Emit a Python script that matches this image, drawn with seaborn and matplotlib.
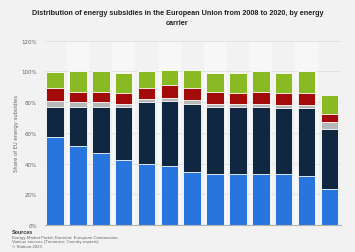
import pandas as pd
import numpy as np
import matplotlib.pyplot as plt
import seaborn as sns

years = [str(y) for y in range(2008, 2021)]
carriers = ['Electricity', 'Renewables', 'Coal', 'Natural gas', 'Petroleum products']
electricity = [57.0, 51.7, 46.9, 42.1, 40.0, 38.2, 34.7, 33.0, 33.0, 33.0, 33.0, 31.9, 23.2]
renewables = [20.1, 25.4, 30.2, 35.0, 39.9, 42.8, 43.9, 44.1, 44.1, 44.1, 43.0, 44.1, 39.5]
coal = [3.9, 2.9, 2.9, 1.5, 2.2, 1.7, 2.6, 1.7, 1.5, 1.5, 2.2, 2.2, 4.2]
natural_gas = [8.0, 6.4, 6.4, 7.2, 6.9, 8.5, 7.8, 7.6, 7.2, 7.8, 7.6, 7.6, 5.2]
petroleum = [10.9, 13.6, 13.6, 13.0, 11.0, 9.8, 12.0, 12.4, 13.0, 13.6, 13.0, 14.2, 12.8]
colors = ['#2876dd', '#0f2740', '#b7b7b7', '#a30b0b', '#8aba23']

df = pd.DataFrame({'year': years, 'Electricity': electricity, 'Renewables': renewables,
                   'Coal': coal, 'Natural gas': natural_gas, 'Petroleum products': petroleum})
cum = df[carriers].cumsum(axis=1)

bg = '#f2f2f2'
fig = plt.figure(figsize=(3.55, 2.53), dpi=100, facecolor=bg)
ax = fig.add_axes([0.127, 0.107, 0.833, 0.728])
ax.set_facecolor(bg)

# lighter bands behind every other bar
for i in range(1, len(years), 2):
    ax.axvspan(i - 0.5, i + 0.5, color='#f7f7f7', zorder=0, lw=0)

# stacked bars: draw cumulative totals from top layer down
for name, col in reversed(list(zip(carriers, colors))):
    sns.barplot(x=df['year'], y=cum[name], color=col, width=0.77, saturation=1,
                edgecolor='white', linewidth=0.6, ax=ax, zorder=2)

ax.set_ylim(0, 120)
ax.set_xlim(-0.44, 12.5)
ax.set_yticks(range(0, 121, 20))
ax.set_yticklabels([f'{t}%' for t in range(0, 121, 20)], fontsize=4, color='#666666')
ax.set_xticks([])
ax.set_xlabel('')
ax.set_ylabel('Share of EU energy subsidies', fontsize=3.8, color='#666666')
ax.yaxis.set_label_coords(-0.088, 0.5)
ax.grid(axis='y', color='#dedede', lw=0.6, zorder=1)
ax.set_axisbelow(True)
for s in ['top', 'right', 'left']:
    ax.spines[s].set_visible(False)
ax.spines['bottom'].set_color('#b0b0b0')
ax.spines['bottom'].set_linewidth(0.8)
ax.tick_params(axis='y', length=0, pad=6)

fig.text(0.5, 0.927, 'Distribution of energy subsidies in the European Union from 2008 to 2020, by energy\ncarrier',
         ha='center', va='center', fontsize=5.2, fontweight='bold', family='Liberation Sans',
         color='#222222', linespacing=1.7)
fig.text(0.033, 0.083, 'Sources', fontsize=3.8, fontweight='bold', color='#333333', va='center', family='Liberation Sans')
fig.text(0.033, 0.068, 'Energy Market Portal; Eurostat; European Commission;\nVarious sources (Trinomics; Country experts)\n\u00a9 Statista 2023',
         fontsize=3.2, color='#666666', va='top', family='Liberation Sans', linespacing=1.15)

fig.savefig('out.png', dpi=100, facecolor=bg)
